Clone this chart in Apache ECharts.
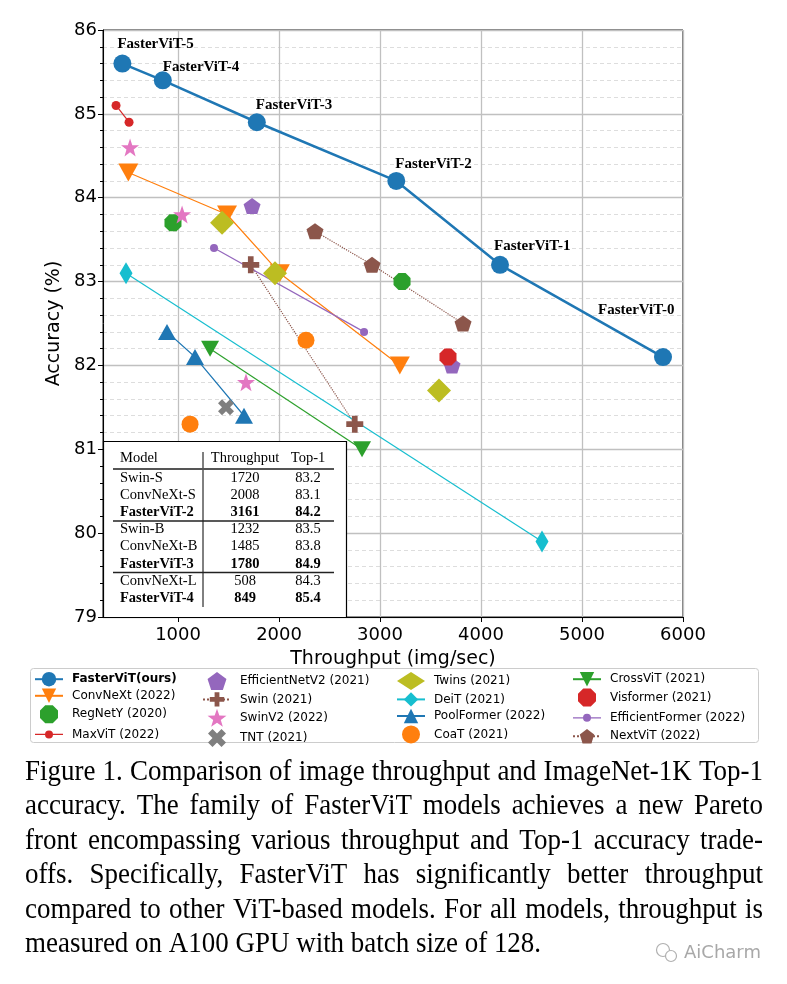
<!DOCTYPE html>
<html><head><meta charset="utf-8">
<script src="https://cdn.jsdelivr.net/npm/echarts@6/dist/echarts.min.js"></script>
<style>html,body{margin:0;padding:0;background:#fff}#c{width:787px;height:984px}</style>
</head><body><div id="c"></div>
<script>
// ---------------- DATA ----------------
const fastervitNames = ['FasterViT-0','FasterViT-1','FasterViT-2','FasterViT-3','FasterViT-4','FasterViT-5'];
const fastervitThroughput = [5802, 4188, 3161, 1780, 849, 449];
const fastervitTop1 = [82.1, 83.2, 84.2, 84.9, 85.4, 85.6];
const convnextThroughput = [508, 1485, 2008, 3196];
const convnextTop1 = [84.3, 83.8, 83.1, 82.0];
const regnetyThroughput = [950, 3218];
const regnetyTop1 = [83.7, 83.0];
const maxvitThroughput = [386, 515];
const maxvitTop1 = [85.1, 84.9];
const effnetv2Throughput = [1733, 3713];
const effnetv2Top1 = [83.9, 82.0];
const swinThroughput = [1720, 2750];
const swinTop1 = [83.2, 81.3];
const swinv2Throughput = [525, 1040, 1673];
const swinv2Top1 = [84.6, 83.8, 81.8];
const tntThroughput = [1475];
const tntTop1 = [81.5];
const twinsThroughput = [1436, 1960, 3584];
const twinsTop1 = [83.7, 83.1, 81.7];
const deitThroughput = [485, 4604];
const deitTop1 = [83.1, 79.9];
const poolformerThroughput = [891, 1168, 1653];
const poolformerTop1 = [82.4, 82.1, 81.4];
const coatThroughput = [1119, 2267];
const coatTop1 = [81.3, 82.3];
const crossvitThroughput = [1317, 2822];
const crossvitTop1 = [82.2, 81.0];
const visformerThroughput = [3673];
const visformerTop1 = [82.1];
const effformerThroughput = [1356, 2842];
const effformerTop1 = [83.4, 82.4];
const nextvitThroughput = [2356, 2921, 3822];
const nextvitTop1 = [83.6, 83.2, 82.5];

const xTickValues = [1000, 2000, 3000, 4000, 5000, 6000];
const yTickValues = [79, 80, 81, 82, 83, 84, 85, 86];

const tableHeader = ['Model', 'Throughput', 'Top-1'];
const tableModels = ['Swin-S','ConvNeXt-S','FasterViT-2','Swin-B','ConvNeXt-B','FasterViT-3','ConvNeXt-L','FasterViT-4'];
const tableThroughput = ['1720','2008','3161','1232','1485','1780','508','849'];
const tableTop1 = ['83.2','83.1','84.2','83.5','83.8','84.9','84.3','85.4'];

const captionLines = [
  'Figure 1. Comparison of image throughput and ImageNet-1K Top-1',
  'accuracy. The family of FasterViT models achieves a new Pareto',
  'front encompassing various throughput and Top-1 accuracy trade-',
  'offs.  Specifically, FasterViT has significantly better throughput',
  'compared to other ViT-based models. For all models, throughput is',
  'measured on A100 GPU with batch size of 128.'
];
const watermarkText = 'AiCharm';

// ---------------- STYLE ----------------
const C = {blue:'#1f77b4', orange:'#ff7f0e', green:'#2ca02c', red:'#d62728', purple:'#9467bd',
  brown:'#8c564b', pink:'#e377c2', gray:'#7f7f7f', olive:'#bcbd22', cyan:'#17becf'};
function poly(pts){ return 'path://M' + pts.map(p => p[0].toFixed(4) + ',' + p[1].toFixed(4)).join(' L') + ' Z'; }
function regular(n, startDeg, rFn){
  const pts = [];
  for (let k = 0; k < n; k++) { const a = (startDeg + k * 360 / n) * Math.PI / 180; const r = rFn ? rFn(k) : 1; pts.push([r * Math.cos(a), r * Math.sin(a)]); }
  return pts;
}
const TRI_DOWN = poly([[-1,-1],[1,-1],[0,1]]);
const TRI_UP = poly([[0,-1],[1,1],[-1,1]]);
const PENT = poly(regular(5, -90));
const OCT = poly(regular(8, 22.5));
const STAR = poly(regular(10, -90, k => (k % 2 ? 0.4 : 1)));
const plusPts = [[-1,-3],[-1,-1],[-3,-1],[-3,1],[-1,1],[-1,3],[1,3],[1,1],[3,1],[3,-1],[1,-1],[1,-3]];
const PLUS = poly(plusPts);
const XF = poly(plusPts.map(p => [(p[0]-p[1])*0.7071, (p[0]+p[1])*0.7071]));
// legend icon: thin line with small dot (28x18 box)
const LINE_DOT = 'path://M0,0 L0.01,0 L0,0.01 Z M28,18 L27.99,18 L28,17.99 Z M0,8.4 L28,8.4 L28,9.6 L0,9.6 Z M18,9 A4,4 0 1 1 10,9 A4,4 0 1 1 18,9 Z';

const fasterLabelOffset = [[-65,-47],[-6,-19],[-1,-17],[-1,-17],[0,-13],[-5,-19]];

const seriesDefs = [
  {name:'FasterViT(ours)', xs:fastervitThroughput, ys:fastervitTop1, kind:'line', color:C.blue, symbol:'circle', size:18, lw:2.5},
  {name:'ConvNeXt (2022)', xs:convnextThroughput, ys:convnextTop1, kind:'line', color:C.orange, symbol:TRI_DOWN, size:[20,18], lw:1.2},
  {name:'RegNetY (2020)', xs:regnetyThroughput, ys:regnetyTop1, kind:'scatter', color:C.green, symbol:OCT, size:17},
  {name:'MaxViT (2022)', xs:maxvitThroughput, ys:maxvitTop1, kind:'line', color:C.red, symbol:'circle', size:9, lw:1.2, icon:LINE_DOT},
  {name:'EfficientNetV2 (2021)', xs:effnetv2Throughput, ys:effnetv2Top1, kind:'scatter', color:C.purple, symbol:PENT, size:[17,16]},
  {name:'Swin (2021)', xs:swinThroughput, ys:swinTop1, kind:'line', color:C.brown, symbol:PLUS, size:17, lw:1.2, dash:'dotted'},
  {name:'SwinV2 (2022)', xs:swinv2Throughput, ys:swinv2Top1, kind:'scatter', color:C.pink, symbol:STAR, size:18},
  {name:'TNT (2021)', xs:tntThroughput, ys:tntTop1, kind:'scatter', color:C.gray, symbol:XF, size:16},
  {name:'Twins (2021)', xs:twinsThroughput, ys:twinsTop1, kind:'scatter', color:C.olive, symbol:'diamond', size:[24,24]},
  {name:'DeiT (2021)', xs:deitThroughput, ys:deitTop1, kind:'line', color:C.cyan, symbol:'diamond', size:[13,22], lw:1.2},
  {name:'PoolFormer (2022)', xs:poolformerThroughput, ys:poolformerTop1, kind:'line', color:C.blue, symbol:TRI_UP, size:[18,16], lw:1.2},
  {name:'CoaT (2021)', xs:coatThroughput, ys:coatTop1, kind:'scatter', color:C.orange, symbol:'circle', size:17},
  {name:'CrossViT (2021)', xs:crossvitThroughput, ys:crossvitTop1, kind:'line', color:C.green, symbol:TRI_DOWN, size:[18,16], lw:1.2},
  {name:'Visformer (2021)', xs:visformerThroughput, ys:visformerTop1, kind:'scatter', color:C.red, symbol:OCT, size:17},
  {name:'EfficientFormer (2022)', xs:effformerThroughput, ys:effformerTop1, kind:'line', color:C.purple, symbol:'circle', size:8, lw:1.2, icon:LINE_DOT},
  {name:'NextViT (2022)', xs:nextvitThroughput, ys:nextvitTop1, kind:'line', color:C.brown, symbol:PENT, size:[17,16], lw:1.2, dash:'dotted'}
];

const series = seriesDefs.map((d, si) => {
  const data = d.xs.map((x, i) => {
    const item = {value:[x, d.ys[i]]};
    if (si === 0) { item.name = fastervitNames[i]; item.label = {offset: fasterLabelOffset[i]}; }
    return item;
  });
  const s = {
    name:d.name, type:d.kind, data, symbol:d.symbol, symbolSize:d.size,
    itemStyle:{color:d.color, opacity:1}, animation:false, silent:true, z:2
  };
  if (d.kind === 'line') {
    s.lineStyle = {color:d.color, width:d.lw, type:d.dash || 'solid'};
    s.showSymbol = true; s.showAllSymbol = true;
  }
  if (si === 0) {
    s.label = {show:true, position:'inside', align:'left', verticalAlign:'middle', formatter:'{b}',
      color:'#000', fontFamily:'Liberation Serif', fontWeight:'bold', fontSize:15, textBorderWidth:0};
  }
  return s;
});

const legendCols = [[0,1,2,3],[4,5,6,7],[8,9,10,11],[12,13,14,15]];
const legendLeft = [34, 202, 396, 572];
const legends = legendCols.map((col, ci) => ({
  orient:'vertical', left:legendLeft[ci], top:672, itemWidth:28, itemHeight:18, itemGap:2.2,
  selectedMode:false, padding:0,
  textStyle:{fontFamily:'DejaVu Sans', fontSize:12, color:'#000', padding:[0,0,0,4]},
  data: col.map(i => {
    const d = seriesDefs[i];
    const o = {name:d.name};
    if (d.icon) o.icon = d.icon;
    if (i === 0) o.textStyle = {fontWeight:'bold'};
    return o;
  })
}));

// ---------------- TABLE GRAPHIC ----------------
const TF = '14.5px "Liberation Serif"', TFB = 'bold 14.5px "Liberation Serif"';
function txt(x, y, t, font, align){
  return {type:'text', x, y, z:200, style:{text:t, font, fill:'#000', align, verticalAlign:'middle', textAlign:align, textVerticalAlign:'middle'}};
}
function hline(x1, x2, y, w, c){ return {type:'line', z:200, shape:{x1, y1:y, x2, y2:y}, style:{stroke:c, lineWidth:w}}; }
const colX = [120, 245, 308];
const tableEls = [
  {type:'rect', z:199, shape:{x:103.5, y:441.5, width:243, height:176}, style:{fill:'#fff', stroke:'#000', lineWidth:1.2}},
  {type:'line', z:200, shape:{x1:203, y1:452, x2:203, y2:607}, style:{stroke:'#000', lineWidth:1}},
  hline(113, 334, 469, 2, '#555'), hline(113, 334, 521, 1.3, '#222'), hline(113, 334, 572.5, 1.3, '#222'),
  txt(colX[0], 458, tableHeader[0], TF, 'left'), txt(colX[1], 458, tableHeader[1], TF, 'center'), txt(colX[2], 458, tableHeader[2], TF, 'center')
];
tableModels.forEach((m, i) => {
  const y = 478 + i * 17.15;
  const f = m.indexOf('FasterViT') === 0 ? TFB : TF;
  tableEls.push(txt(colX[0], y, m, f, 'left'), txt(colX[1], y, tableThroughput[i], f, 'center'), txt(colX[2], y, tableTop1[i], f, 'center'));
});

// ---------------- CAPTION (justified) ----------------
const CF = '29px "Liberation Serif"';
const CSX = 0.93;
const mctx = document.createElement('canvas').getContext('2d');
mctx.font = CF;
const capLeft = 25, capRight = 763;
const captionEls = [];
captionLines.forEach((line, li) => {
  const y = 772 + li * 34.5;
  const words = line.split(/\s+/);
  const widths = words.map(w => mctx.measureText(w).width * CSX);
  const sum = widths.reduce((a, b) => a + b, 0);
  const last = li === captionLines.length - 1;
  const gap = last ? mctx.measureText(' ').width * CSX : (capRight - capLeft - sum) / (words.length - 1);
  let x = capLeft;
  words.forEach((w, wi) => {
    captionEls.push({type:'text', x, y, scaleX:CSX, z:10, style:{text:w, font:CF, fill:'#000', verticalAlign:'middle', textVerticalAlign:'middle'}});
    x += widths[wi] + gap;
  });
});

const legendBox = {type:'rect', z:0, shape:{x:30.5, y:668.5, width:728, height:74, r:3}, style:{fill:'none', stroke:'#cccccc', lineWidth:1}};
const watermark = [
  {type:'circle', z:10, shape:{cx:663, cy:950, r:6.5}, style:{fill:'none', stroke:'#b0b0b0', lineWidth:1.2}},
  {type:'circle', z:10, shape:{cx:671, cy:956, r:5.5}, style:{fill:'#fff', stroke:'#b0b0b0', lineWidth:1.2}},
  {type:'text', x:684, y:953, z:10, style:{text:watermarkText, font:'18px "DejaVu Sans"', fill:'#a8a8a8', verticalAlign:'middle', textVerticalAlign:'middle'}}
];

// ---------------- CHART ----------------
const chart = echarts.init(document.getElementById('c'), null, {renderer:'canvas'});
chart.setOption({
  backgroundColor:'#fff',
  animation:false,
  grid:{left:103, right:104, top:30, bottom:367, show:true, borderColor:'#000', borderWidth:1, backgroundColor:'transparent'},
  xAxis:{
    type:'value', min:257, max:6000, splitNumber:6,
    name:'Throughput (img/sec)', nameLocation:'middle', nameGap:33,
    nameTextStyle:{fontFamily:'DejaVu Sans', fontSize:19, color:'#000'},
    axisLine:{show:true, lineStyle:{color:'#000', width:1}},
    axisTick:{show:true, length:5, lineStyle:{color:'#000'}},
    axisLabel:{show:true, fontFamily:'DejaVu Sans', fontSize:18, color:'#000', margin:9, showMinLabel:false,
      formatter:v => (xTickValues.indexOf(v) >= 0 ? String(v) : '')},
    splitLine:{show:true, lineStyle:{color:'#c0c0c0', width:1.3}}
  },
  yAxis:{
    type:'value', min:yTickValues[0], max:yTickValues[yTickValues.length-1], interval:1,
    name:'Accuracy (%)', nameLocation:'middle', nameGap:35,
    nameTextStyle:{fontFamily:'DejaVu Sans', fontSize:19, color:'#000'},
    axisLine:{show:true, lineStyle:{color:'#000', width:1}},
    axisTick:{show:true, length:5, lineStyle:{color:'#000'}},
    minorTick:{show:true, splitNumber:5, length:3, lineStyle:{color:'#000'}},
    axisLabel:{fontFamily:'DejaVu Sans', fontSize:18, color:'#000', margin:6},
    splitLine:{show:true, lineStyle:{color:'#c0c0c0', width:1.3}},
    minorSplitLine:{show:true, lineStyle:{color:'#dddddd', width:1, type:[4,3]}}
  },
  legend:legends,
  series,
  graphic:{elements:[legendBox].concat(tableEls, captionEls, watermark)}
});
</script></body></html>
